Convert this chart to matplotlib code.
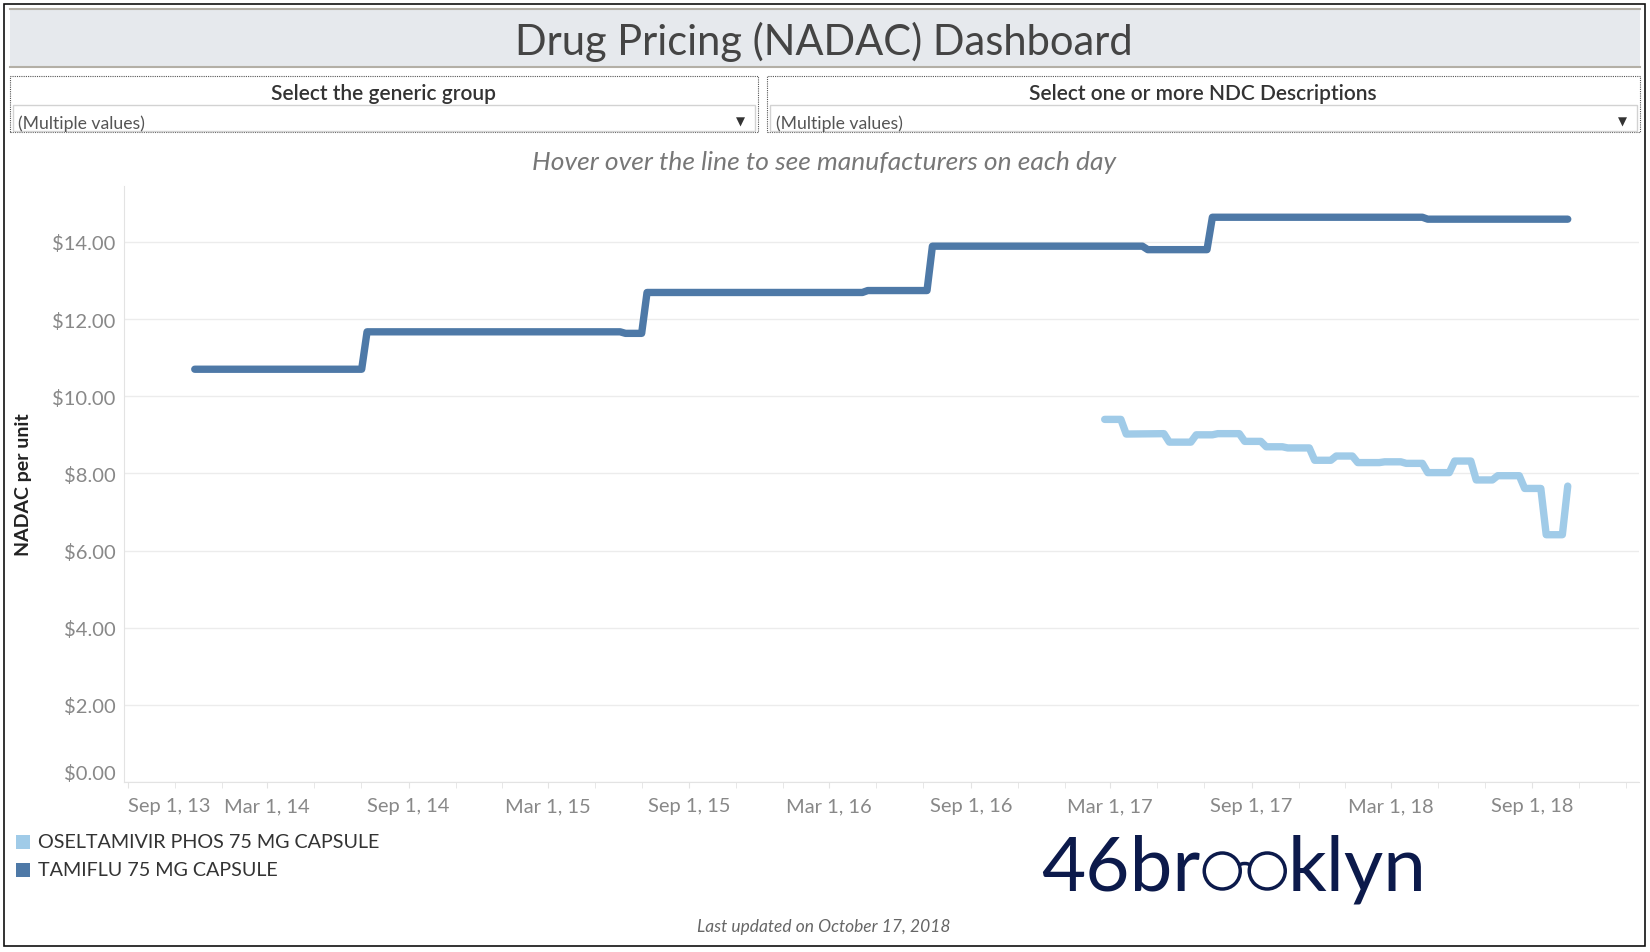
import numpy as np
import pandas as pd
import matplotlib
matplotlib.use("Agg")
import matplotlib.pyplot as plt
import matplotlib.dates as mdates
from matplotlib.patches import Rectangle, Circle, Arc

W, H = 1650, 953

# NADAC per unit (weekly effective dates where the price changes)
tamiflu_dates = ["2013-11-27", "2014-07-02", "2014-07-09", "2015-06-03", "2015-06-10",
                 "2015-07-01", "2015-07-08", "2016-04-13", "2016-04-20", "2016-07-06",
                 "2016-07-13", "2017-04-12", "2017-04-19", "2017-07-05", "2017-07-12",
                 "2018-04-11", "2018-04-18", "2018-10-17"]
tamiflu_price = [10.70, 10.70, 11.67, 11.67, 11.63,
                 11.63, 12.69, 12.69, 12.74, 12.74,
                 13.89, 13.89, 13.80, 13.80, 14.64,
                 14.64, 14.59, 14.59]

osel_dates = ["2017-02-22", "2017-03-15", "2017-03-22", "2017-05-10", "2017-05-17",
              "2017-06-14", "2017-06-21", "2017-07-12", "2017-07-19", "2017-08-16",
              "2017-08-23", "2017-09-13", "2017-09-20", "2017-10-11", "2017-10-18",
              "2017-11-15", "2017-11-22", "2017-12-13", "2017-12-20", "2018-01-10",
              "2018-01-17", "2018-02-14", "2018-02-21", "2018-03-14", "2018-03-21",
              "2018-04-11", "2018-04-18", "2018-05-16", "2018-05-23", "2018-06-13",
              "2018-06-20", "2018-07-11", "2018-07-18", "2018-08-15", "2018-08-22",
              "2018-09-12", "2018-09-19", "2018-10-10", "2018-10-17"]
osel_price = [9.40, 9.40, 9.02, 9.03, 8.81,
              8.81, 9.00, 9.00, 9.03, 9.03,
              8.83, 8.83, 8.69, 8.69, 8.66,
              8.66, 8.34, 8.34, 8.45, 8.45,
              8.28, 8.28, 8.30, 8.30, 8.26,
              8.26, 8.02, 8.02, 8.32, 8.32,
              7.83, 7.83, 7.94, 7.94, 7.61,
              7.61, 6.41, 6.41, 7.67]

series_names = ["OSELTAMIVIR PHOS 75 MG CAPSULE", "TAMIFLU 75 MG CAPSULE"]
series_colors = ["#a0cbe8", "#4e79a7"]

y_ticks = [0, 2, 4, 6, 8, 10, 12, 14]
x_tick_dates = ["2013-09-01", "2014-03-01", "2014-09-01", "2015-03-01", "2015-09-01",
                "2016-03-01", "2016-09-01", "2017-03-01", "2017-09-01", "2018-03-01",
                "2018-09-01"]
x_tick_labels = ["Sep 1, 13", "Mar 1, 14", "Sep 1, 14", "Mar 1, 15", "Sep 1, 15",
                 "Mar 1, 16", "Sep 1, 16", "Mar 1, 17", "Sep 1, 17", "Mar 1, 18",
                 "Sep 1, 18"]

FONT = ["Lato", "DejaVu Sans"]
plt.rcParams["font.family"] = FONT

fig = plt.figure(figsize=(W / 100, H / 100), dpi=100)
tr = fig.dpi_scale_trans


def P(x, y):
    # pixel (from top-left) -> inches for dpi_scale_trans
    return x / 100, (H - y) / 100


def rect(x0, y0, x1, y1, **kw):
    r = Rectangle(P(x0, y1), (x1 - x0) / 100, (y1 - y0) / 100, transform=tr, **kw)
    fig.patches.append(r)
    return r


def line(x0, y0, x1, y1, **kw):
    a, b = P(x0, y0)
    c, d = P(x1, y1)
    fig.lines.append(plt.Line2D([a, c], [b, d], transform=tr, **kw))


def text(x, y, s, **kw):
    a, b = P(x, y)
    return fig.text(a, b, s, transform=tr, **kw)


# frame and header
rect(4, 5, 1645, 947, fill=False, edgecolor="#111111", lw=1.2)
rect(9.5, 10.5, 1639.5, 68.4, facecolor="#e6e9ed", edgecolor="none")
line(9.5, 10.5, 1639.5, 10.5, color="#b3afa6", lw=1.5)
line(9.5, 68.4, 1639.5, 68.4, color="#b3afa6", lw=1.5)
text(824, 42, "Drug Pricing (NADAC) Dashboard", ha="center", va="center",
     fontsize=30, fontweight="normal", color="#444444")

# filter boxes
for x0, x1, label in [(9.5, 757.7, "Select the generic group"),
                      (767, 1639.5, "Select one or more NDC Descriptions")]:
    rect(x0, 76.8, x1, 132.6, fill=False, edgecolor="#555555", lw=0.8, ls=(0, (1, 1)))
    rect(x0 + 3, 106.3, x1 - 3, 131.5, fill=False, edgecolor="#d2d2d2", lw=1)
    text((x0 + x1) / 2, 94, label, ha="center", va="center", fontsize=15,
         fontweight="semibold", color="#333333")
    text(x0 + 8.5, 124, "(Multiple values)", ha="left", va="center", fontsize=12.7,
         color="#555555")
    text(x1 - 17, 122, "\u25bc", ha="center", va="center", fontsize=8.5, color="#333333")

text(824, 163, "Hover over the line to see manufacturers on each day", ha="center",
     va="center", fontsize=19, fontstyle="italic", fontweight="normal", color="#777777")

# chart
ax = fig.add_axes([124 / W, 1 - 783 / H, (1638.5 - 124) / W, (783 - 187) / H])
ax.plot(pd.to_datetime(tamiflu_dates), tamiflu_price, color=series_colors[1], lw=5.3,
        solid_capstyle="round", solid_joinstyle="round")
ax.plot(pd.to_datetime(osel_dates), osel_price, color=series_colors[0], lw=5.3,
        solid_capstyle="round", solid_joinstyle="round")

ax.set_xlim(pd.Timestamp("2013-08-27"), pd.Timestamp("2019-01-17"))
ax.set_ylim(0, 15.45)
ax.set_yticks(y_ticks)
ax.set_yticklabels(["${:,.2f}".format(v) for v in y_ticks])
ax.set_xticks(pd.to_datetime(x_tick_dates))
ax.set_xticklabels(x_tick_labels)
ax.xaxis.set_minor_locator(mdates.MonthLocator(bymonth=[1, 5, 7, 11]))

ax.grid(axis="y", color="#ececec", lw=1)
ax.set_axisbelow(True)
for s in ["top", "right"]:
    ax.spines[s].set_visible(False)
for s in ["left", "bottom"]:
    ax.spines[s].set_color("#e3e3e3")
ax.tick_params(axis="y", length=0, pad=6, labelsize=14.5, labelcolor="#888888")
ax.tick_params(axis="x", which="both", length=4, color="#e3e3e3", pad=7,
               labelsize=14.5, labelcolor="#888888")
ax.get_yticklabels()[0].set_va("bottom")
ax.get_xticklabels()[0].set_ha("left")
ax.set_ylabel("NADAC per unit", fontsize=14, fontweight="bold", color="#222222")
ax.yaxis.set_label_coords(-0.0605, 0.5)

# legend
for i, (name, col) in enumerate(zip(series_names, series_colors)):
    y = 843 + i * 28
    rect(16, y - 7, 29.5, y + 6.5, facecolor=col, edgecolor="none")
    text(38, y, name, ha="left", va="center", fontsize=14.2, color="#333333")

text(824, 927, "Last updated on October 17, 2018", ha="center", va="center",
     fontsize=12.5, fontstyle="italic", color="#666666")

# 46brooklyn logo
logo = "#0c1a4b"
base = 891
t1 = text(1041, base, "46br", ha="left", va="baseline", fontsize=55, color=logo)
fig.canvas.draw()
ren = fig.canvas.get_renderer()
xe = t1.get_window_extent(ren).x1
rad = 18
cy = base - 19
cx1 = xe + 4 + rad
cx2 = cx1 + 2 * rad + 9
for cx in (cx1, cx2):
    fig.patches.append(Circle(P(cx, cy), rad / 100, transform=tr, fill=False,
                              edgecolor=logo, lw=2.5))
fig.patches.append(Arc(P((cx1 + cx2) / 2, cy - 3), 0.15, 0.09, theta1=20, theta2=160,
                       transform=tr, edgecolor=logo, lw=2.5))
text(cx2 + rad + 2, base, "klyn", ha="left", va="baseline", fontsize=55, color=logo)

fig.savefig("out.png", dpi=100)
